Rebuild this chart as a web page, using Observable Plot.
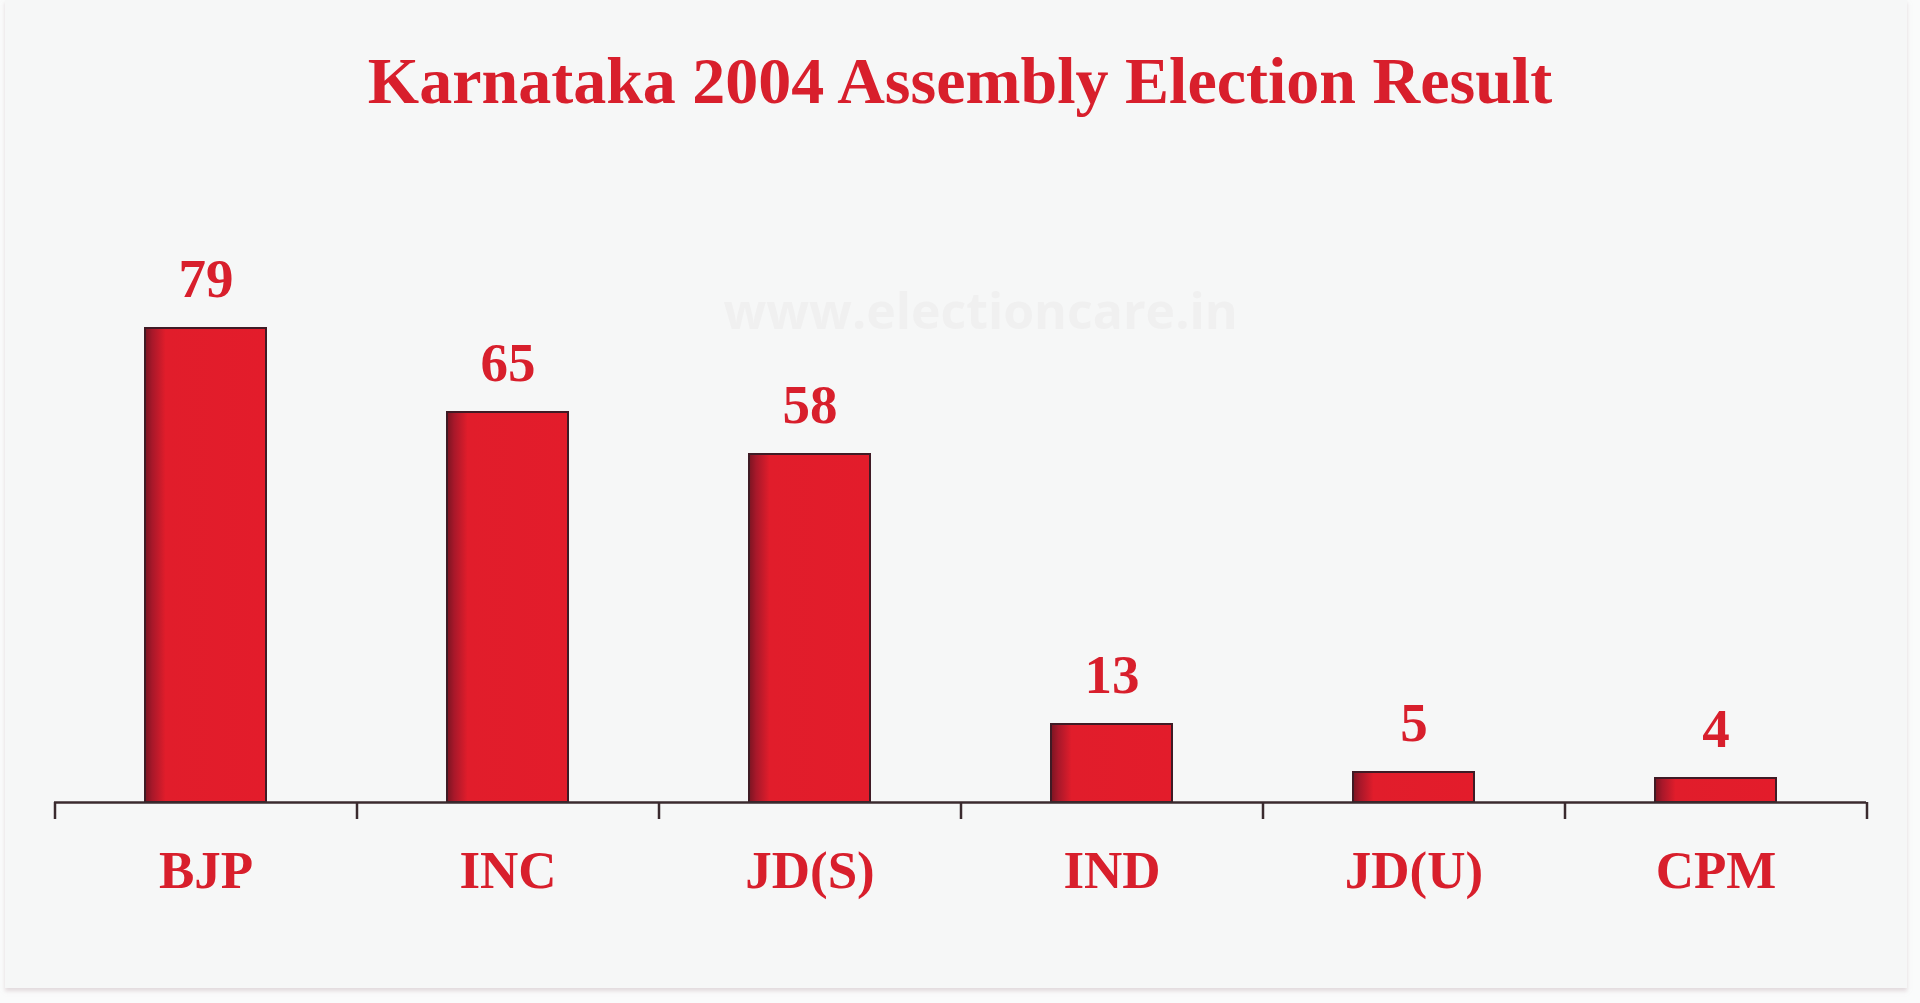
<!DOCTYPE html>
<html>
<head>
<meta charset="utf-8">
<script src="https://cdn.jsdelivr.net/npm/d3@7"></script>
<script src="https://cdn.jsdelivr.net/npm/@observablehq/plot@0.6"></script>
<style>
  html, body { margin: 0; padding: 0; background: #fafbfb; width: 1920px; height: 1003px; overflow: hidden; }
  #card { position: absolute; left: 5px; top: 0px; width: 1902px; height: 988px; background: #f6f7f7;
          box-shadow: 0 3px 4px rgba(205, 190, 195, 0.55); }
  #title { position: absolute; left: 0; top: 48px; width: 1920px; text-align: center;
           font-family: "Liberation Serif", serif; font-weight: bold; font-size: 66px; line-height: 66px;
           color: #d81f2c; }
  #chart { position: absolute; left: 0; top: 130px; }
</style>
</head>
<body>
<div id="card"></div>
<div id="title">Karnataka 2004 Assembly Election Result</div>
<div id="chart"></div>
<script>
const parties = ["BJP", "INC", "JD(S)", "IND", "JD(U)", "CPM"];
const seats = [79, 65, 58, 13, 5, 4];
const watermark = ["www.electioncare.in"];

const data = parties.map((p, i) => ({party: p, seats: seats[i]}));

const W = 1920, H = 860, ML = 54, MR = 54, MT = 72, MB = 188;
const step = (W - ML - MR) / parties.length;
const red = "#d81f2c";

const chart = Plot.plot({
  width: W,
  height: H,
  marginLeft: ML,
  marginRight: MR,
  marginTop: MT,
  marginBottom: MB,
  style: {background: "transparent", fontFamily: "Liberation Serif, serif", color: red},
  x: {domain: parties, paddingInner: 0.6, paddingOuter: 0.3, axis: null, label: null},
  y: {domain: [0, 100], axis: null},
  marks: [
    Plot.text(watermark, {
      text: d => d, frameAnchor: "top", lineAnchor: "bottom", dy: 126, dx: 20,
      fontFamily: "Open Sans, sans-serif", fontWeight: "bold", fontSize: 50,
      fill: "#f0f0f0"
    }),
    Plot.barY(data, {x: "party", y: "seats", fill: "url(#barGrad)", stroke: "#3f1b25", strokeWidth: 2}),
    Plot.ruleY([0], {stroke: "#3a2a2e", strokeWidth: 2.5}),
    Plot.ruleX(parties, {x: d => d, y1: 0, y2: 0, insetBottom: -17, dx: -step / 2, stroke: "#3a2a2e", strokeWidth: 2.5}),
    Plot.ruleX(parties.slice(-1), {x: d => d, y1: 0, y2: 0, insetBottom: -17, dx: step / 2, stroke: "#3a2a2e", strokeWidth: 2.5}),
    Plot.text(data, {
      x: "party", y: "seats", text: d => String(d.seats), lineAnchor: "bottom", dy: -32,
      fontSize: 55, fontWeight: "bold", fill: red
    }),
    Plot.axisX({tickSize: 0, tickPadding: 48, fontSize: 53, fontWeight: "bold", fill: red, label: null})
  ]
});

const defs = d3.select(chart).insert("defs", ":first-child");
const g = defs.append("linearGradient").attr("id", "barGrad").attr("x1", "0").attr("x2", "1").attr("y1", "0").attr("y2", "0");
g.append("stop").attr("offset", "0%").attr("stop-color", "#7a1522");
g.append("stop").attr("offset", "6%").attr("stop-color", "#a8182a");
g.append("stop").attr("offset", "17%").attr("stop-color", "#e11d2b");
g.append("stop").attr("offset", "100%").attr("stop-color", "#e31c2b");

document.getElementById("chart").appendChild(chart);
</script>
</body>
</html>
